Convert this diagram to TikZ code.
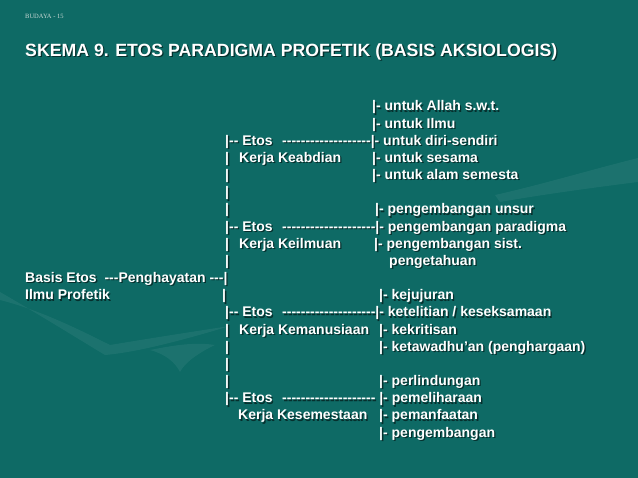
\documentclass[tikz,border=0pt]{standalone}
\usepackage{fontspec}
\setmainfont{Liberation Sans}[Ligatures=TeXOff]
\newfontfamily\serifsmall{Liberation Serif}[Ligatures=TeXOff]
\definecolor{bgteal}{RGB}{14,106,101}
\definecolor{tagcol}{RGB}{200,216,213}
\tikzset{
  tx/.style={anchor=base west, inner sep=0pt, text=white, font=\bfseries\fontsize{14}{16}\selectfont},
  sh/.style={tx, text=black, text opacity=0.55},
  ttl/.style={anchor=base west, inner sep=0pt, text=white, font=\bfseries\fontsize{17.7}{20}\selectfont},
  ttlsh/.style={ttl, text=black, text opacity=0.55},
  swoosh/.style={fill=white, fill opacity=0.06, draw=none}
}
% name, x, row, text
\newcommand{\Row}[4]{%
  \node[sh] (#1s) at ({#2+1.3},{112.3+17.16*#3}) {#4};
  \node[tx] (#1) at ({#2},{111+17.16*#3}) {#4};}
\begin{document}
\begin{tikzpicture}[x=1pt,y=-1pt]
\useasboundingbox (0,0) rectangle (638,478);
\fill[bgteal] (0,0) rectangle (638,478);
% background swooshes
\fill[swoosh] (0,292) .. controls (40,315) and (80,340) .. (105,355)
  .. controls (140,352) and (190,338) .. (230,326)
  .. controls (190,332) and (140,340) .. (110,345)
  .. controls (80,330) and (40,310) .. (0,300) -- cycle;
\fill[swoosh] (150,350) .. controls (175,345) and (195,342) .. (215,345)
  .. controls (200,352) and (185,362) .. (180,372)
  .. controls (175,362) and (165,354) .. (150,350) -- cycle;
\fill[swoosh] (495,195) .. controls (540,185) and (590,170) .. (638,158)
  -- (638,182) .. controls (590,188) and (540,195) .. (500,202) -- cycle;
% tag
\node[anchor=base west, inner sep=0pt, text=tagcol, font=\serifsmall\fontsize{6.5}{7}\selectfont] (tag) at (25,18.5) {BUDAYA - 15};
% title
\node[ttlsh] (titles) at (26.3,57.6) {SKEMA 9. ETOS PARADIGMA PROFETIK (BASIS AKSIOLOGIS)};
\node[ttl] (title) at (25,56.3) {SKEMA 9. ETOS PARADIGMA PROFETIK (BASIS AKSIOLOGIS)};
% group 1
\Row{a1}{372}{0}{|- untuk Allah s.w.t.}
\Row{a2}{372}{1}{|- untuk Ilmu}
\Row{e1}{225}{2}{|-- Etos}
\Row{a3}{282}{2}{-------------------|- untuk diri-sendiri}
\Row{v3}{225}{3}{|}
\Row{k1}{239}{3}{Kerja Keabdian}
\Row{a4}{372}{3}{|- untuk sesama}
\Row{v4}{225}{4}{|}
\Row{a5}{372}{4}{|- untuk alam semesta}
\Row{v5}{225}{5}{|}
% group 2
\Row{v6}{225}{6}{|}
\Row{b1}{375}{6}{|- pengembangan unsur}
\Row{e2}{225}{7}{|-- Etos}
\Row{b2}{282}{7}{--------------------|- pengembangan paradigma}
\Row{v8}{225}{8}{|}
\Row{k2}{239}{8}{Kerja Keilmuan}
\Row{b3}{374}{8}{|- pengembangan sist.}
\Row{v9}{225}{9}{|}
\Row{b4}{389}{9}{pengetahuan}
% root
\Row{r1}{25}{10}{Basis Etos\ \ ---Penghayatan ---|}
\Row{r2}{25}{11}{Ilmu Profetik}
\Row{v11}{222}{11}{|}
% group 3
\Row{c1}{379}{11}{|- kejujuran}
\Row{e3}{225}{12}{|-- Etos}
\Row{c2}{282}{12}{--------------------|- ketelitian / keseksamaan}
\Row{v13}{225}{13}{|}
\Row{k3}{239}{13}{Kerja Kemanusiaan}
\Row{c3}{379}{13}{|- kekritisan}
\Row{v14}{225}{14}{|}
\Row{c4}{379}{14}{|- ketawadhu’an (penghargaan)}
\Row{v15}{225}{15}{|}
% group 4
\Row{v16}{225}{16}{|}
\Row{f1}{379}{16}{|- perlindungan}
\Row{e4}{225}{17}{|-- Etos}
\Row{f2}{282}{17}{-------------------- |- pemeliharaan}
\Row{k4}{238}{18}{Kerja Kesemestaan}
\Row{f3}{379}{18}{|- pemanfaatan}
\Row{f4}{379}{19}{|- pengembangan}
\end{tikzpicture}
\end{document}
